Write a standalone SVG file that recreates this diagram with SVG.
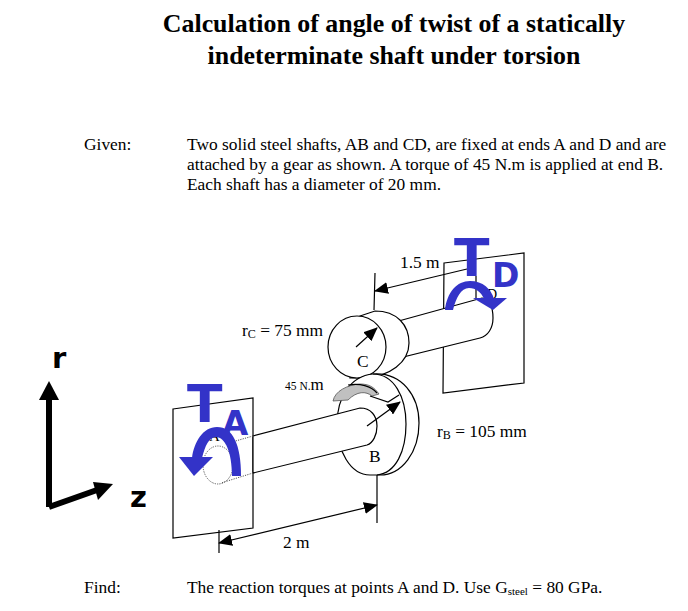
<svg xmlns="http://www.w3.org/2000/svg" width="688" height="611" viewBox="0 0 688 611">
<style>
text{font-family:"Liberation Serif","Times New Roman",serif;fill:#000}
.b{font-size:17.4px}
.t{font-size:25.9px;font-weight:bold;text-anchor:middle}
.s{fill:#fff;stroke:#000;stroke-width:1.2}
.l{fill:none;stroke:#000;stroke-width:1.2}
.d{fill:none;stroke:#555;stroke-width:1;stroke-dasharray:1.2 1.2}
.u{fill:#3333c8;stroke:none}
.ut{font-family:"DejaVu Sans",sans-serif;font-weight:bold;fill:#3333c8}
.ax{font-family:"DejaVu Sans",sans-serif;font-weight:bold;font-size:29px}
</style>
<defs>
<marker id="ah" markerUnits="userSpaceOnUse" markerWidth="14" markerHeight="12" refX="13" refY="6" orient="auto-start-reverse"><path d="M0 0L14 6L0 12Z" fill="#000"/></marker>
</defs>
<rect width="688" height="611" fill="#fff"/>
<g id="title">
<text class="t" x="394" y="32">Calculation of angle of twist of a statically</text>
<text class="t" x="394" y="64">indeterminate shaft under torsion</text>
</g>
<g id="given">
<text class="b" x="84" y="150">Given:</text>
<text class="b" x="187" y="150">Two solid steel shafts, AB and CD, are fixed at ends A and D and are</text>
<text class="b" x="187" y="170">attached by a gear as shown. A torque of 45 N.m is applied at end B.</text>
<text class="b" x="187" y="190">Each shaft has a diameter of 20 mm.</text>
</g>
<g id="find">
<text class="b" x="84" y="593">Find:</text>
<text class="b" x="187" y="593">The reaction torques at points A and D. Use G<tspan font-size="11" dy="2">steel</tspan><tspan dy="-2"> = 80 GPa.</tspan></text>
</g>
<g id="plate-D"><path class="s" d="M444 263L524 253L524 383L443 393Z"/><text x="487" y="299" font-size="14">D</text></g>
<g id="plate-A"><path class="s" d="M173 409L253 398L253 528L173 538Z"/></g>
<g id="shaft-CD"><path class="s" d="M395 322L482 298C490 298 493 308 493 318C493 328 488 336 480 338L395 359Z"/></g>
<g id="gear-C">
<path class="s" d="M360 316L375 311C397 311 409 325 409 343C409 362 390 377 363 378L350 378Z"/>
<ellipse class="s" cx="357" cy="347" rx="29" ry="31"/>
<text class="b" x="357" y="367">C</text>
</g>
<g id="gear-B">
<path class="s" d="M373 374C402 372 419 396 419 423C419 452 402 475 380 475L370 475C350 475 337 450 337 424C337 398 350 376 373 374Z"/>
<path class="l" d="M373 374C394 374 406 397 406 424C406 451 396 473 377 475"/>
<text class="b" x="369" y="462">B</text>
</g>
<g id="shaft-AB">
<path class="s" d="M253 436L360 408C371 408 377 416 377 426C377 435 373 443 367 445L253 473Z"/>
<path class="d" d="M253 436L225 444M253 473L221 483"/>
<ellipse class="d" cx="218" cy="465" rx="15" ry="19"/>
<text x="209" y="441" font-size="15">A</text>
</g>
<g id="torque-45">
<path d="M333 401C335 391 347 385 360 384C369 384 374 387 379 394L372 396C366 391 357 391 348 400Z" fill="#c0c0c0" stroke="#555" stroke-width=".8"/>
<path class="l" d="M348 385C360 383 371 386 377 393M370 396L388 402L399 395"/>
<text x="285" y="390" font-size="11.5">45 N.<tspan font-size="17">m</tspan></text>
</g>
<g id="connectors">
<path class="l" d="M367 426L400 402" marker-end="url(#ah)"/>
<path class="l" d="M356 347L377 328" marker-end="url(#ah)"/>
<path class="l" d="M377 475V523M219 530V553M375 273L374 310M476 276V298"/>
<path class="l" d="M219 543L377 505" marker-start="url(#ah)" marker-end="url(#ah)"/>
<path class="l" d="M375 291L467 269" marker-start="url(#ah)"/>
</g>
<g id="labels">
<text class="b" x="400" y="268">1.5 m</text>
<text class="b" x="283" y="548">2 m</text>
<text class="b" x="242" y="336">r<tspan font-size="12" dy="2">C</tspan><tspan dy="-2"> = 75 mm</tspan></text>
<text class="b" x="437" y="437">r<tspan font-size="12" dy="2">B</tspan><tspan dy="-2"> = 105 mm</tspan></text>
</g>
<g id="T-A">
<text class="ut" x="187" y="422" font-size="52">T</text>
<text class="ut" x="222" y="435" font-size="34">A</text>
<path class="u" d="M241 476C241 445 233 427 217 427C203 427 194 442 192 458L202 458C205 446 209 437 216 437C225 437 232 452 232 476Z"/>
<path class="u" d="M179 457H213L194 476Z"/>
</g>
<g id="T-D">
<text class="ut" x="454" y="276" font-size="52">T</text>
<text class="ut" x="492" y="287" font-size="33">D</text>
<path class="u" d="M445 310C447 292 457 281 470 281C483 281 491 289 494 299L484 299C481 292 476 288 469 288C461 288 456 298 453 310Z"/>
<path class="u" d="M473 298H507L493 310Z"/>
</g>
<g id="axes">
<path d="M49 507V398M49 507L97 490" fill="none" stroke="#000" stroke-width="6"/>
<path d="M39 400H59L49 381Z" fill="#000"/>
<path d="M93 482L113 484L98 500Z" fill="#000"/>
<text class="ax" x="52" y="368">r</text>
<text class="ax" x="130" y="507">z</text>
</g>
</svg>
